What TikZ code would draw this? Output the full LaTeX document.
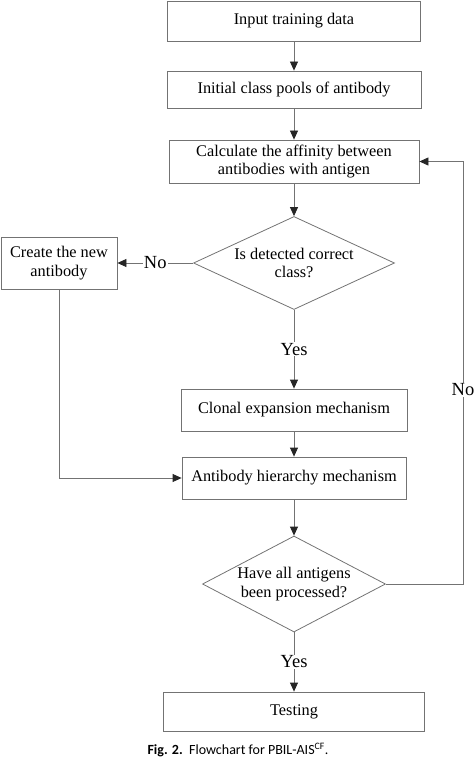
\documentclass[tikz,border=0pt]{standalone}
\usepackage{fontspec}
\setmainfont{Liberation Serif}
\newfontfamily\capfont{Carlito}
\usetikzlibrary{shapes.geometric,arrows.meta}

\begin{document}
\begin{tikzpicture}[x=1pt,y=-1pt,
                box/.style={draw=black!55, line width=0.8pt, inner sep=2pt, align=center, font=\fontsize{16.3}{18.3}\selectfont},
                decide/.style={draw=black!55, line width=0.8pt, diamond, inner sep=0pt},
                txt/.style={align=center, inner sep=0pt, font=\fontsize{16.3}{18.3}\selectfont},
                lbl/.style={fill=white, inner sep=1pt, font=\fontsize{18.5}{20}\selectfont},
                arr/.style={draw=black!55, line width=0.8pt, -{Triangle[length=9pt,width=8pt,color=black!85]}}]
                \useasboundingbox (0,0) rectangle (474,759);
                \node[box, minimum width=253pt, minimum height=40pt] (input) at (294,21) {Input training data};
                \node[box, minimum width=254pt, minimum height=37pt] (init) at (294,89.5) {Initial class pools of antibody};
                \node[box, minimum width=250pt, minimum height=43pt] (calc) at (294,161.5) {Calculate the affinity between\\antibodies with antigen};
                \node[decide, minimum width=201pt, minimum height=93pt] (detect) at (294,263) {};
                \node[txt] (detecttxt) at (detect) {Is detected correct\\class?};
                \node[box, minimum width=116pt, minimum height=52pt] (create) at (59,263) {Create the new\\antibody};
                \node[box, minimum width=226pt, minimum height=42pt] (clonal) at (294,410) {Clonal expansion mechanism};
                \node[box, minimum width=224pt, minimum height=42pt] (hier) at (294,478) {Antibody hierarchy mechanism};
                \node[decide, minimum width=183pt, minimum height=96pt] (done) at (294,584) {};
                \node[txt] (donetxt) at (done) {Have all antigens\\been processed?};
                \node[box, minimum width=261pt, minimum height=39pt] (testing) at (294,711.5) {Testing};
                \node[font=\capfont\fontsize{14}{16}\selectfont] (caption) at (238,750) {\textbf{Fig. 2.}\ \ Flowchart for PBIL-AIS\textsuperscript{CF}.};
                \coordinate (loop) at (463,584);
                \draw[arr] (input) -- (init);
                \draw[arr] (init) -- (calc);
                \draw[arr] (calc) -- (detect);
                \draw[arr] (detect) -- node[lbl] {No} (create);
                \draw[arr] (detect) -- node[lbl] {Yes} (clonal);
                \draw[arr] (clonal) -- (hier);
                \draw[arr] (create) |- (hier);
                \draw[arr] (hier) -- (done);
                \draw[arr] (done) -- node[lbl] {Yes} (testing);
                \draw[arr] (done.east) -- (loop) -- node[lbl, pos=0.46] {No} (loop |- calc.east) -- (calc.east);
                \end{tikzpicture}
\end{document}
